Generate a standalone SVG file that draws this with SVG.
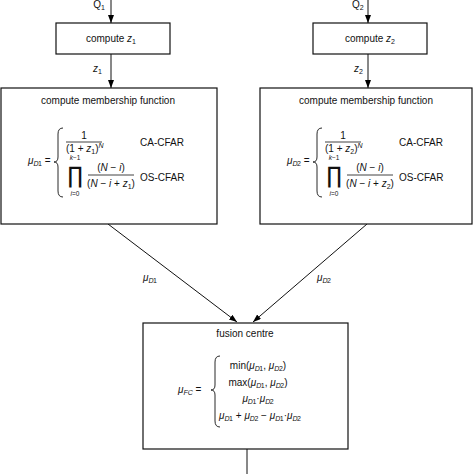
<svg xmlns="http://www.w3.org/2000/svg" width="474" height="474" viewBox="0 0 474 474">
<defs>
<marker id="ah" markerUnits="userSpaceOnUse" markerWidth="8" markerHeight="6" refX="8" refY="3" orient="auto">
<path d="M0,0 L8,3 L0,6 z" fill="#000"/>
</marker>
<style>
text{font-family:"Liberation Sans",Arial,sans-serif;font-size:10px;fill:#111}
.i{font-style:italic}
.s{font-size:7px}
.t{font-size:6.5px}
.pr{font-family:"DejaVu Sans",sans-serif;font-size:20px}
.box{fill:#fff;stroke:#111;stroke-width:1.2}
.c{stroke:#111;stroke-width:1;fill:none}
.br{stroke:#111;stroke-width:0.9;fill:none}
.fl{stroke:#111;stroke-width:0.8}
</style>
</defs>
<rect width="474" height="474" fill="#fff"/>
<g id="connectors">
<line class="c" x1="111" y1="0" x2="111" y2="23" marker-end="url(#ah)" stroke-width="1.3"/>
<line class="c" x1="111" y1="54" x2="111" y2="88" marker-end="url(#ah)"/>
<line class="c" x1="368" y1="0" x2="368" y2="23" marker-end="url(#ah)" stroke-width="1.3"/>
<line class="c" x1="368" y1="54" x2="368" y2="88" marker-end="url(#ah)"/>
<line class="c" x1="108" y1="224" x2="237" y2="322" marker-end="url(#ah)"/>
<line class="c" x1="367" y1="224" x2="253" y2="322" marker-end="url(#ah)"/>
<line class="c" x1="247" y1="449" x2="247" y2="474"/>
<text x="99" y="8" text-anchor="middle">Q<tspan class="s" dy="2">1</tspan></text>
<text x="352" y="8" text-anchor="start">Q<tspan class="s" dy="2">2</tspan></text>
<text x="93" y="72"><tspan class="i">z</tspan><tspan class="s" dy="2">1</tspan></text>
<text x="354" y="72"><tspan class="i">z</tspan><tspan class="s" dy="2">2</tspan></text>
<text x="143" y="281"><tspan class="i">μ</tspan><tspan class="s i" dy="2">D</tspan><tspan class="s" dx="-0.5">1</tspan></text>
<text x="317" y="281"><tspan class="i">μ</tspan><tspan class="s i" dy="2">D</tspan><tspan class="s" dx="-0.5">2</tspan></text>
</g>
<g id="compute-z1">
<rect class="box" x="56" y="23" width="114" height="31"/>
<text x="111" y="42" text-anchor="middle">compute <tspan class="i">z</tspan><tspan class="s" dy="2">1</tspan></text>
</g>
<g id="compute-z2">
<rect class="box" x="313" y="23" width="114" height="31"/>
<text x="370" y="42" text-anchor="middle">compute <tspan class="i">z</tspan><tspan class="s" dy="2">2</tspan></text>
</g>
<g id="membership-1">
<rect class="box" x="1" y="88" width="216" height="136"/>
<text x="108" y="104" text-anchor="middle">compute membership function</text>
<text x="28" y="164"><tspan class="i">μ</tspan><tspan class="s i" dy="2">D</tspan><tspan class="s" dx="-0.5">1</tspan><tspan dy="-2"> =</tspan></text>
<path class="br" d="M63,128 Q58,128 58,134 L58,157 Q58,162 54,162 Q58,162 58,167 L58,191 Q58,197 63,197"/>
<text x="84" y="139" text-anchor="middle">1</text>
<line class="fl" x1="66" y1="142" x2="102" y2="142"/>
<text x="66" y="152">(1 + <tspan class="i">z</tspan><tspan class="s" dy="2">1</tspan><tspan dy="-2">)</tspan><tspan class="s i" dy="-4">N</tspan></text>
<text x="140" y="146">CA-CFAR</text>
<text x="75" y="160" text-anchor="middle" class="t i">k<tspan font-style="normal">−1</tspan></text>
<text class="pr" text-anchor="middle" transform="translate(75,183) scale(1,1.15)">∏</text>
<text x="75" y="196" text-anchor="middle" class="t"><tspan class="i">i</tspan>=0</text>
<text x="111" y="171" text-anchor="middle">(<tspan class="i">N</tspan> − <tspan class="i">i</tspan>)</text>
<line class="fl" x1="88" y1="175" x2="134" y2="175"/>
<text x="111" y="187" text-anchor="middle">(<tspan class="i">N</tspan> − <tspan class="i">i</tspan> + <tspan class="i">z</tspan><tspan class="s" dy="2">1</tspan><tspan dy="-2">)</tspan></text>
<text x="140" y="181">OS-CFAR</text>
</g>
<g id="membership-2">
<rect class="box" x="260" y="88" width="212" height="136"/>
<text x="366" y="104" text-anchor="middle">compute membership function</text>
<g transform="translate(259,0)">
<text x="28" y="164"><tspan class="i">μ</tspan><tspan class="s i" dy="2">D</tspan><tspan class="s" dx="-0.5">2</tspan><tspan dy="-2"> =</tspan></text>
<path class="br" d="M63,128 Q58,128 58,134 L58,157 Q58,162 54,162 Q58,162 58,167 L58,191 Q58,197 63,197"/>
<text x="84" y="139" text-anchor="middle">1</text>
<line class="fl" x1="66" y1="142" x2="102" y2="142"/>
<text x="66" y="152">(1 + <tspan class="i">z</tspan><tspan class="s" dy="2">2</tspan><tspan dy="-2">)</tspan><tspan class="s i" dy="-4">N</tspan></text>
<text x="140" y="146">CA-CFAR</text>
<text x="75" y="160" text-anchor="middle" class="t i">k<tspan font-style="normal">−1</tspan></text>
<text class="pr" text-anchor="middle" transform="translate(75,183) scale(1,1.15)">∏</text>
<text x="75" y="196" text-anchor="middle" class="t"><tspan class="i">i</tspan>=0</text>
<text x="111" y="171" text-anchor="middle">(<tspan class="i">N</tspan> − <tspan class="i">i</tspan>)</text>
<line class="fl" x1="88" y1="175" x2="134" y2="175"/>
<text x="111" y="187" text-anchor="middle">(<tspan class="i">N</tspan> − <tspan class="i">i</tspan> + <tspan class="i">z</tspan><tspan class="s" dy="2">2</tspan><tspan dy="-2">)</tspan></text>
<text x="140" y="181">OS-CFAR</text>
</g>
</g>
<g id="fusion-centre">
<rect class="box" x="143" y="323" width="205" height="126"/>
<text x="245" y="337" text-anchor="middle">fusion centre</text>
<text x="178" y="393"><tspan class="i">μ</tspan><tspan class="s i" dy="2">FC</tspan><tspan dy="-2"> =</tspan></text>
<path class="br" d="M220,356 Q215,356 215,362 L215,385 Q215,390 211,390 Q215,390 215,395 L215,421 Q215,427 220,427"/>
<text x="258" y="369" text-anchor="middle">min(<tspan class="i">μ</tspan><tspan class="s i" dy="2">D</tspan><tspan class="s" dx="-0.5">1</tspan><tspan dy="-2">, </tspan><tspan class="i">μ</tspan><tspan class="s i" dy="2">D</tspan><tspan class="s" dx="-0.5">2</tspan><tspan dy="-2">)</tspan></text>
<text x="258" y="386" text-anchor="middle">max(<tspan class="i">μ</tspan><tspan class="s i" dy="2">D</tspan><tspan class="s" dx="-0.5">1</tspan><tspan dy="-2">, </tspan><tspan class="i">μ</tspan><tspan class="s i" dy="2">D</tspan><tspan class="s" dx="-0.5">2</tspan><tspan dy="-2">)</tspan></text>
<text x="258" y="402" text-anchor="middle"><tspan class="i">μ</tspan><tspan class="s i" dy="2">D</tspan><tspan class="s" dx="-0.5">1</tspan><tspan dy="-2">·</tspan><tspan class="i">μ</tspan><tspan class="s i" dy="2">D</tspan><tspan class="s" dx="-0.5">2</tspan></text>
<text x="260" y="419" text-anchor="middle"><tspan class="i">μ</tspan><tspan class="s i" dy="2">D</tspan><tspan class="s" dx="-0.5">1</tspan><tspan dy="-2"> + </tspan><tspan class="i">μ</tspan><tspan class="s i" dy="2">D</tspan><tspan class="s" dx="-0.5">2</tspan><tspan dy="-2"> − </tspan><tspan class="i">μ</tspan><tspan class="s i" dy="2">D</tspan><tspan class="s" dx="-0.5">1</tspan><tspan dy="-2">·</tspan><tspan class="i">μ</tspan><tspan class="s i" dy="2">D</tspan><tspan class="s" dx="-0.5">2</tspan></text>
</g>
</svg>
